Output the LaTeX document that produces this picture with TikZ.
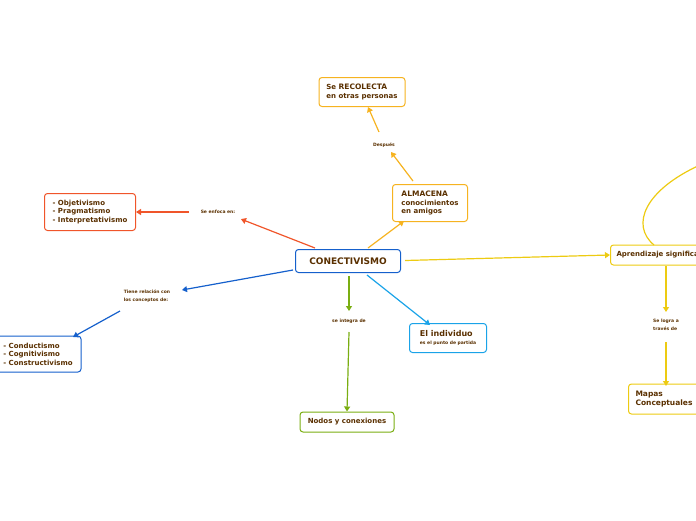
\documentclass[tikz,border=0pt]{standalone}
\usepackage{fontspec}
\setmainfont{DejaVu Sans}
\usetikzlibrary{arrows.meta}
\definecolor{txt}{HTML}{5A3000}
\definecolor{cred}{HTML}{F0552A}
\definecolor{cblue}{HTML}{1560CC}
\definecolor{csky}{HTML}{1AA3E8}
\definecolor{cgreen}{HTML}{7AAE12}
\definecolor{cyel}{HTML}{EDCB12}
\definecolor{corange}{HTML}{F6B320}
\tikzset{
 box/.style={draw=#1,line width=1pt,fill=white,rounded corners=3pt,text=txt,font=\bfseries\fontsize{7}{8.5}\selectfont,align=left,inner xsep=7pt,inner ysep=4pt},
 lbl/.style={text=txt,font=\bfseries\fontsize{4.5}{8}\selectfont,align=left},
 con/.style={draw=#1,line width=1.2pt,-{Triangle[length=5pt,width=6pt]}},
 ln/.style={draw=#1,line width=1.2pt}
}
\begin{document}
\begin{tikzpicture}[x=1pt,y=-1pt]
\useasboundingbox (0,0) rectangle (696,520);
\clip (0,0) rectangle (696,520);
\node[box=cblue,font=\bfseries\fontsize{9}{10}\selectfont,minimum width=105pt,minimum height=23pt,align=center] (c) at (348,261) {CONECTIVISMO};
\node[box=corange,minimum width=75pt,minimum height=37pt] (alm) at (430,203) {{\fontsize{7.5}{8.5}\selectfont ALMACENA}\\conocimientos\\en amigos};
\node[box=corange,minimum width=86pt,minimum height=29pt] (rec) at (362,92) {Se {\fontsize{7.5}{8.5}\selectfont RECOLECTA}\\en otras personas};
\node[lbl] (desp) at (384,145) {Después};
\node[box=cred,minimum width=91pt,minimum height=37pt] (obj) at (90,212) {- Objetivismo\\- Pragmatismo\\- Interpretativismo};
\node[lbl] (enf) at (218,212) {Se enfoca en:};
\node[lbl] (tiene) at (147,296) {Tiene relación con\\los conceptos de:};
\node[box=cblue,minimum width=86pt,minimum height=36pt] (cond) at (38,354) {- Conductismo\\- Cognitivismo\\- Constructivismo};
\node[lbl] (integ) at (349,321) {se integra de};
\node[box=cgreen,minimum width=94pt,minimum height=20pt,align=center] (nod) at (347,422) {Nodos y conexiones};
\node[box=csky,minimum width=77pt,minimum height=29pt] (ind) at (448,338) {{\fontsize{8}{9}\selectfont El individuo}\\{\fontsize{4.5}{7}\selectfont es el punto de partida}};
\node[box=cyel,text width=108pt,minimum height=20pt,anchor=west,inner xsep=6pt] (apr) at (610,255) {Aprendizaje significativo};
\node[lbl] (logra) at (666,325) {Se logra a\\través de};
\node[box=cyel,text width=78pt,minimum height=30pt,anchor=west,inner xsep=7pt] (map) at (628,399) {{\fontsize{7.5}{9}\selectfont Mapas}\\{\fontsize{7.5}{9}\selectfont Conceptuales}};
% connectors
\draw[ln=cred] (315,248) -- (242,219.5);
\draw[con=cred] (242,219.5) -- ++(-1,-0.4);
\draw[ln=cred] (189,212) -- (137,212);
\draw[con=cred] (140,212) -- (obj.east);
\draw[con=cblue] (293,270) -- (182,290);
\draw[con=cblue] (120,311) -- (73,337);
\draw[con=cgreen] (349,276) -- (349,311);
\draw[con=cgreen] (349,332) -- (nod.north);
\draw[con=csky] (367,275) -- (430,325);
\draw[con=corange] (368,248) -- (404,221);
\draw[con=corange] (413,181) -- (391,152);
\draw[con=corange] (379,132) -- (368,107);
\draw[con=cyel] (405,260.5) -- (apr.west);
\draw[con=cyel] (666,266) -- (666,312);
\draw[con=cyel] (666,342) -- (666,386);
\draw[ln=cyel] (654,245) .. controls (630,225) and (645,190) .. (700,165);
\end{tikzpicture}
\end{document}
